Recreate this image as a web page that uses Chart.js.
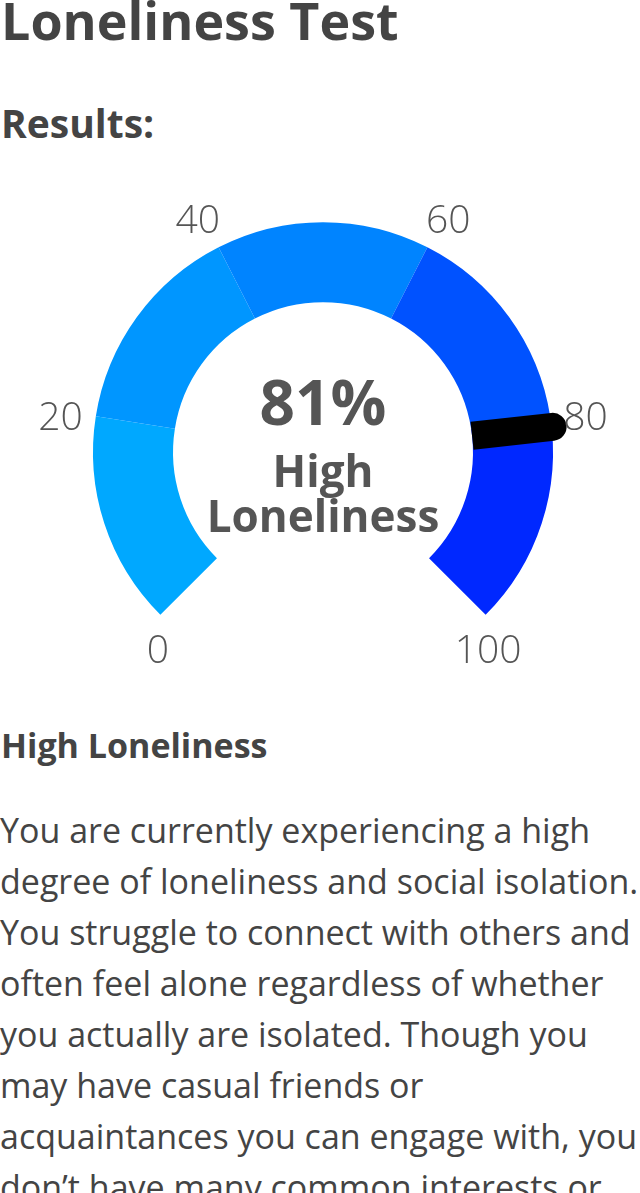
<!DOCTYPE html>
<html>
<head>
<meta charset="utf-8">
<script src="https://cdn.jsdelivr.net/npm/chart.js@4.4.0/dist/chart.umd.min.js"></script>
<style>
  html, body { margin: 0; padding: 0; background: #fff; width: 640px; height: 1193px; overflow: hidden; }
  body { position: relative; font-family: "Open Sans", sans-serif; color: #444; }
  .t { position: absolute; left: 2px; white-space: nowrap; line-height: 1; }
  #title { font-size: 52px; font-weight: 700; top: -6px; left: 1px; }
  #results { font-size: 39px; font-weight: 700; top: 103px; left: 1px; }
  #wrap { position: absolute; left: 0; top: 180px; width: 640px; height: 500px; }
  #heading { font-size: 34px; font-weight: 700; top: 728px; left: 1px; }
  #para { position: absolute; left: 0; top: 805px; font-size: 34px; line-height: 51px; font-weight: 400; white-space: nowrap; color: #444; }
</style>
</head>
<body>
<div id="title" class="t">Loneliness Test</div>
<div id="results" class="t">Results:</div>
<div id="wrap"><canvas id="c"></canvas></div>
<div id="heading" class="t">High Loneliness</div>
<div id="para">You are currently experiencing a high<br>degree of loneliness and social isolation.<br>You struggle to connect with others and<br>often feel alone regardless of whether<br>you actually are isolated. Though you<br>may have casual friends or<br>acquaintances you can engage with, you<br>don’t have many common interests or</div>
<script>
// ---- data ----
const segmentLabels = ["0-20", "20-40", "40-60", "60-80", "80-100"];
const segmentValues = [20, 20, 20, 20, 20];
const segmentColors = ["#00a8ff", "#0096ff", "#0084ff", "#0052ff", "#0028ff"];
const tickValues = [0, 20, 40, 60, 80, 100];
const tickLabels = ["0", "20", "40", "60", "80", "100"];
const scoreValue = 81;
const centerLines = ["81%", "High", "Loneliness"];
const gaugeMin = 0, gaugeMax = 100;

function angleFor(meta, v) {
  const first = meta.data[0], last = meta.data[meta.data.length - 1];
  const a0 = first.startAngle, a1 = last.endAngle;
  return a0 + (v - gaugeMin) / (gaugeMax - gaugeMin) * (a1 - a0);
}

const gaugePlugin = {
  id: 'gauge',
  afterDatasetsDraw(chart) {
    const ctx = chart.ctx;
    const meta = chart.getDatasetMeta(0);
    const arc = meta.data[0];
    const cx = arc.x, cy = arc.y, rIn = arc.innerRadius, rOut = arc.outerRadius;

    // needle
    const a = angleFor(meta, scoreValue);
    const w = 28;
    const tip = rOut + 15;
    ctx.save();
    ctx.translate(cx, cy);
    ctx.rotate(a);
    ctx.fillStyle = '#000';
    ctx.beginPath();
    ctx.moveTo(rIn, -w / 2);
    ctx.lineTo(tip - w / 2, -w / 2);
    ctx.arc(tip - w / 2, 0, w / 2, -Math.PI / 2, Math.PI / 2);
    ctx.lineTo(rIn, w / 2);
    ctx.closePath();
    ctx.fill();
    ctx.restore();

    // tick labels
    ctx.save();
    ctx.fillStyle = '#555';
    ctx.font = '300 39px "Open Sans"';
    ctx.textAlign = 'center';
    ctx.textBaseline = 'alphabetic';
    const deg = Math.PI / 180;
    tickValues.forEach((v, i) => {
      const rel = angleFor(meta, v) + Math.PI / 2; // relative to top, clockwise
      const s = Math.sign(rel) || 0;
      let r, lrel;
      if (Math.abs(rel) > Math.PI / 2) { lrel = rel + s * 5 * deg; r = rOut + 27; }
      else { lrel = rel + s * 1.2 * deg; r = rOut + 35; }
      const x = cx + r * Math.sin(lrel);
      const y = cy - r * Math.cos(lrel);
      ctx.fillText(tickLabels[i], x, y + 14);
    });
    ctx.restore();

    // center text
    ctx.save();
    ctx.fillStyle = '#555';
    ctx.textAlign = 'center';
    ctx.textBaseline = 'alphabetic';
    ctx.font = '700 62px "Open Sans"';
    ctx.fillText(centerLines[0], cx, cy - 27);
    ctx.font = '700 44px "Open Sans"';
    ctx.fillText(centerLines[1], cx, cy + 35);
    ctx.fillText(centerLines[2], cx, cy + 80);
    ctx.restore();
  }
};

new Chart(document.getElementById('c'), {
  type: 'doughnut',
  data: {
    labels: segmentLabels,
    datasets: [{
      data: segmentValues,
      backgroundColor: segmentColors,
      borderWidth: 0,
      hoverOffset: 0
    }]
  },
  options: {
    responsive: true,
    maintainAspectRatio: false,
    animation: false,
    rotation: -135,
    circumference: 270,
    cutout: '65.2%',
    layout: { padding: { left: 93, right: 87, top: 42, bottom: 65 } },
    plugins: { legend: { display: false }, tooltip: { enabled: false } },
    events: []
  },
  plugins: [gaugePlugin]
});
</script>
</body>
</html>
